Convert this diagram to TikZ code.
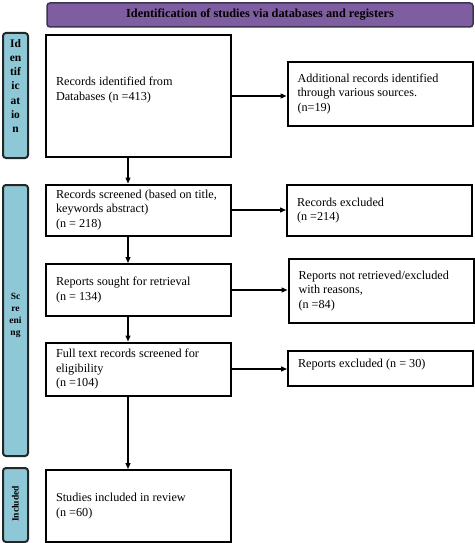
\documentclass[tikz,border=0pt]{standalone}
\usepackage{fontspec}
\setmainfont{Liberation Serif}
\usetikzlibrary{arrows.meta}
\definecolor{hdrpurple}{RGB}{126,94,160}
\definecolor{hdrline}{RGB}{62,52,82}
\definecolor{sideblue}{RGB}{142,199,214}
\begin{document}
\begin{tikzpicture}[x=1pt,y=-1pt,
  box/.style={draw=black, line width=2pt, fill=white, inner xsep=10pt, inner ysep=0pt,
    align=flush left, text width=165pt, minimum width=185pt,
    font=\fontsize{12.2}{14.5}\selectfont},
  side/.style={draw=black!85, line width=2pt, fill=sideblue, rounded corners=3pt,
    minimum width=25pt, inner sep=0pt},
  sidetext/.style={align=center, inner sep=0pt, font=\bfseries},
  arr/.style={line width=1.3pt, -{Triangle[length=6pt,width=5pt]}}
]
\useasboundingbox (0,0) rectangle (474,543);

% header
\node[draw=hdrline, line width=1.5pt, fill=hdrpurple, rounded corners=3pt,
  minimum width=426pt, minimum height=24pt, inner sep=0pt,
  font=\bfseries\fontsize{12.3}{14}\selectfont] (hdr) at (260,15)
  {Identification of studies via databases and registers};

% side bars
\node[side, minimum height=125pt] (sid) at (15.5,95.5) {};
\node[sidetext, font=\bfseries\fontsize{11.5}{14.3}\selectfont] (sidt) at (15.5,86)
  {Id\\en\\tif\\ic\\at\\io\\n};
\node[side, minimum height=271pt] (sscr) at (15.5,320.5) {};
\node[sidetext, font=\bfseries\fontsize{9.5}{12}\selectfont] (sscrt) at (15.5,315)
  {Sc\\re\\eni\\ng};
\node[side, minimum height=74pt] (sinc) at (15.5,505) {};
\node[sidetext, rotate=90, font=\bfseries\fontsize{9.5}{11}\selectfont] (sinct) at (15.5,504)
  {Included};

% main boxes
\node[box, minimum height=122pt] (A) at (138.5,96)
  {Records identified from\\Databases (n =413)\\\mbox{}};
\node[box, minimum height=64pt] (B) at (380,94)
  {Additional records identified\\through various sources.\\(n=19)};
\node[box, minimum height=51pt] (C) at (138.5,210)
  {\mbox{Records screened (based on title,}\\keywords abstract)\\(n = 218)};
\node[box, minimum height=51pt] (D) at (379.5,210.5)
  {Records excluded\\(n =214)};
\node[box, minimum height=52pt] (E) at (138.5,290)
  {Reports sought for retrieval\\(n = 134)};
\node[box, minimum height=64pt] (F) at (381,291)
  {\mbox{Reports not retrieved/excluded}\\with reasons,\\(n =84)};
\node[box, minimum height=53pt] (G) at (138.5,369)
  {Full text records screened for\\eligibility\\(n =104)};
\node[box, minimum height=35pt] (H) at (380.5,368.5)
  {Reports excluded (n = 30)\\[-5pt]\mbox{}};
\node[box, minimum height=72pt] (I) at (138.5,506)
  {Studies included in review\\(n =60)};

\coordinate (spine) at (128,0);

% connectors
\draw[arr] (A.east) -- (A.east -| B.west);
\draw[arr] (C.east) -- (C.east -| D.west);
\draw[arr] (E.east) -- (E.east -| F.west);
\draw[arr] (G.east) -- (G.east -| H.west);
\draw[arr] (A.south -| spine) -- (C.north -| spine);
\draw[arr] (C.south -| spine) -- (E.north -| spine);
\draw[arr] (E.south -| spine) -- (G.north -| spine);
\draw[arr] (G.south -| spine) -- (I.north -| spine);
\end{tikzpicture}
\end{document}
